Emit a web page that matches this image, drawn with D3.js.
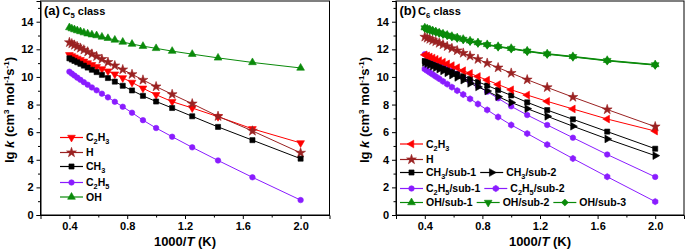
<!DOCTYPE html>
<html><head><meta charset="utf-8">
<script src="https://cdn.jsdelivr.net/npm/d3@7"></script>
<style>
html,body{margin:0;padding:0;background:#fff;}
svg{display:block;font-family:"Liberation Sans",Arial,sans-serif;font-weight:bold;}
</style></head>
<body><svg id="c" width="685" height="252"></svg>
<script>
// ---------- DATA ----------
const xVals = [0.4, 0.4167, 0.4348, 0.4545, 0.4762, 0.5, 0.5263, 0.5556, 0.5882, 0.625, 0.6667, 0.7143, 0.7692, 0.8333, 0.9091, 1.0, 1.1111, 1.25, 1.4286, 1.6667, 2.0];
const xTicks = [0.4, 0.8, 1.2, 1.6, 2.0];
const yTicks = [0, 2, 4, 6, 8, 10, 12, 14];

// Panel (a) C5 class
const a_C2H3 = [11.6, 11.52, 11.43, 11.34, 11.24, 11.13, 11.01, 10.88, 10.73, 10.58, 10.42, 10.2, 9.93, 9.6, 9.18, 8.71, 8.21, 7.75, 7.12, 6.24, 5.22];
const a_H    = [12.5, 12.41, 12.31, 12.2, 12.09, 11.96, 11.82, 11.66, 11.49, 11.29, 11.07, 10.82, 10.53, 10.19, 9.78, 9.3, 8.74, 8.06, 7.15, 6.09, 4.5];
const a_CH3  = [11.35, 11.26, 11.16, 11.06, 10.95, 10.82, 10.68, 10.52, 10.35, 10.15, 9.92, 9.66, 9.36, 9.02, 8.63, 8.22, 7.75, 7.15, 6.38, 5.42, 4.08];
const a_C2H5 = [10.38, 10.24, 10.1, 9.95, 9.79, 9.62, 9.44, 9.24, 9.03, 8.79, 8.52, 8.2, 7.84, 7.41, 6.87, 6.3, 5.67, 4.9, 3.95, 2.73, 1.08];
const a_OH   = [13.58, 13.5, 13.43, 13.36, 13.29, 13.21, 13.13, 13.06, 13.0, 12.9, 12.8, 12.68, 12.53, 12.38, 12.23, 12.07, 11.87, 11.65, 11.38, 11.05, 10.65];

// Panel (b) C6 class
const b_C2H3     = [11.6, 11.53, 11.45, 11.37, 11.28, 11.18, 11.07, 10.95, 10.82, 10.67, 10.45, 10.26, 10.03, 9.77, 9.45, 9.07, 8.69, 8.23, 7.68, 6.95, 6.08];
const b_H        = [12.9, 12.82, 12.74, 12.65, 12.56, 12.45, 12.34, 12.21, 12.07, 11.91, 11.73, 11.52, 11.28, 11.0, 10.67, 10.28, 9.8, 9.24, 8.54, 7.64, 6.4];
const b_CH3_1    = [11.15, 11.08, 11.0, 10.92, 10.83, 10.73, 10.62, 10.5, 10.37, 10.22, 10.05, 9.86, 9.64, 9.38, 9.05, 8.66, 8.16, 7.6, 6.93, 6.04, 4.8];
const b_CH3_2    = [11.05, 10.97, 10.88, 10.78, 10.68, 10.57, 10.44, 10.3, 10.14, 9.97, 9.77, 9.54, 9.28, 8.98, 8.57, 8.15, 7.7, 7.15, 6.43, 5.51, 4.3];
const b_C2H5_1   = [11.65, 11.54, 11.42, 11.3, 11.16, 11.01, 10.84, 10.66, 10.46, 10.23, 9.97, 9.67, 9.33, 8.93, 8.45, 7.87, 7.24, 6.52, 5.6, 4.38, 2.76];
const b_C2H5_2   = [10.57, 10.45, 10.32, 10.18, 10.03, 9.87, 9.68, 9.48, 9.26, 9.01, 8.73, 8.41, 8.04, 7.61, 7.1, 6.52, 5.9, 5.1, 4.09, 2.77, 0.97];
const b_OH_1     = [13.57, 13.5, 13.43, 13.36, 13.29, 13.21, 13.13, 13.04, 12.95, 12.85, 12.74, 12.62, 12.49, 12.36, 12.22, 12.08, 11.89, 11.69, 11.49, 11.21, 10.9];
const b_OH_2     = [13.54, 13.47, 13.4, 13.33, 13.26, 13.18, 13.1, 13.01, 12.92, 12.82, 12.71, 12.59, 12.46, 12.33, 12.19, 12.05, 11.86, 11.66, 11.46, 11.18, 10.87];
const b_OH_3     = [13.52, 13.45, 13.38, 13.31, 13.24, 13.16, 13.08, 12.99, 12.9, 12.8, 12.69, 12.57, 12.44, 12.31, 12.17, 12.03, 11.84, 11.64, 11.44, 11.16, 10.85];

// ---------- STYLE ----------
const RED = "#ff0000", WINE = "#9a2222", BLACK = "#000000", VIOLET = "#8a1cff", GREEN = "#0a8a0a";

const hexagon = { draw(ctx, size) {
  const r = Math.sqrt(size / (1.5 * Math.sqrt(3)));
  for (let i = 0; i < 6; i++) {
    const a = Math.PI / 3 * i + Math.PI / 6;
    const px = r * Math.cos(a), py = r * Math.sin(a);
    if (i === 0) ctx.moveTo(px, py); else ctx.lineTo(px, py);
  }
  ctx.closePath();
}};

const M = {
  triUp:   {type: d3.symbolTriangle, size: 26, rot: 0},
  triDown: {type: d3.symbolTriangle, size: 26, rot: 180},
  triLeft: {type: d3.symbolTriangle, size: 26, rot: -90},
  triRight:{type: d3.symbolTriangle, size: 26, rot: 90},
  star:    {type: d3.symbolStar, size: 30, rot: 0},
  square:  {type: d3.symbolSquare, size: 26, rot: 0},
  circle:  {type: d3.symbolCircle, size: 24, rot: 0},
  hex:     {type: hexagon, size: 26, rot: 0},
  diamond: {type: d3.symbolSquare, size: 24, rot: 45}
};

const panels = [
  {
    left: 40.5, right: 329.5, top: 1, bottom: 215,
    tag: "(a)", cls: ["C","6"].length ? "C_5 class" : "", titleX: 14,
    series: [
      {label: "C_2H_3", y: a_C2H3, color: RED, m: "triDown"},
      {label: "H", y: a_H, color: WINE, m: "star"},
      {label: "CH_3", y: a_CH3, color: BLACK, m: "square"},
      {label: "C_2H_5", y: a_C2H5, color: VIOLET, m: "circle"},
      {label: "OH", y: a_OH, color: GREEN, m: "triUp"}
    ],
    legendRows: [["C_2H_3"],["H"],["CH_3"],["C_2H_5"],["OH"]],
    legendX: 60, legendY: [137.5, 152.5, 166.5, 182.5, 197]
  },
  {
    left: 396, right: 684, top: 1, bottom: 215,
    tag: "(b)", cls: "C_6 class", titleX: 369,
    series: [
      {label: "C_2H_5/sub-1", y: b_C2H5_1, color: VIOLET, m: "circle"},
      {label: "C_2H_5/sub-2", y: b_C2H5_2, color: VIOLET, m: "hex"},
      {label: "CH_3/sub-1", y: b_CH3_1, color: BLACK, m: "square"},
      {label: "CH_3/sub-2", y: b_CH3_2, color: BLACK, m: "triRight"},
      {label: "C_2H_3", y: b_C2H3, color: RED, m: "triLeft"},
      {label: "H", y: b_H, color: WINE, m: "star"},
      {label: "OH/sub-1", y: b_OH_1, color: GREEN, m: "triUp"},
      {label: "OH/sub-2", y: b_OH_2, color: GREEN, m: "triDown"},
      {label: "OH/sub-3", y: b_OH_3, color: GREEN, m: "diamond"}
    ],
    legendRows: [["C_2H_3"],["H"],["CH_3/sub-1","CH_3/sub-2"],["C_2H_5/sub-1","C_2H_5/sub-2"],["OH/sub-1","OH/sub-2","OH/sub-3"]],
    legendX: 400, legendY: [144, 159.5, 172.5, 188.5, 202.5]
  }
];
panels[0].cls = "C_5 class";

const svg = d3.select("#c");

function richText(sel, str, size) {
  // "_x" => subscript single char
  let i = 0;
  while (i < str.length) {
    if (str[i] === "_") {
      sel.append("tspan").attr("font-size", size * 0.7).attr("dy", size * 0.3).text(str[i + 1]);
      i += 2;
      let j = i; while (j < str.length && str[j] !== "_") j++;
      if (j > i) sel.append("tspan").attr("dy", -size * 0.3).text(str.slice(i, j));
      else sel.append("tspan").attr("dy", -size * 0.3).text("");
      i = j;
    } else {
      let j = i; while (j < str.length && str[j] !== "_") j++;
      sel.append("tspan").text(str.slice(i, j));
      i = j;
    }
  }
  return sel;
}

function drawMarker(g, mk, x, y, color) {
  const s = M[mk];
  g.append("path")
    .attr("d", d3.symbol().type(s.type).size(s.size)())
    .attr("transform", `translate(${x},${y}) rotate(${s.rot})`)
    .attr("fill", color).attr("stroke", color).attr("stroke-width", 0.6);
}

panels.forEach(p => {
  const x = d3.scaleLinear().domain([0.2, 2.2]).range([p.left, p.right]);
  const y = d3.scaleLinear().domain([0, 15.5]).range([p.bottom, p.top]);
  const g = svg.append("g");

  // frame
  g.append("rect").attr("x", p.left).attr("y", p.top)
    .attr("width", p.right - p.left).attr("height", p.bottom - p.top)
    .attr("fill", "none").attr("stroke", "#000").attr("stroke-width", 1);

  // x axis
  const xa = g.append("g").attr("transform", `translate(0,${p.bottom})`)
    .call(d3.axisBottom(x).tickValues(xTicks).tickFormat(d3.format(".1f")).tickSize(4).tickPadding(3));
  g.append("g").attr("transform", `translate(0,${p.bottom})`)
    .call(d3.axisBottom(x).tickValues([0.6, 1.0, 1.4, 1.8]).tickFormat("").tickSize(2.5))
    .select(".domain").remove();
  // y axis
  const ya = g.append("g").attr("transform", `translate(${p.left},0)`)
    .call(d3.axisLeft(y).tickValues(yTicks).tickFormat(d3.format("d")).tickSize(4).tickPadding(3));
  g.append("g").attr("transform", `translate(${p.left},0)`)
    .call(d3.axisLeft(y).tickValues([1, 3, 5, 7, 9, 11, 13, 15]).tickFormat("").tickSize(2.5))
    .select(".domain").remove();
  g.selectAll(".tick text").attr("font-size", 11).attr("font-weight", "bold")
    .attr("font-family", "Liberation Sans, Arial, sans-serif").attr("fill", "#000");
  g.selectAll(".domain").attr("stroke-width", 1);

  // series
  p.series.forEach(s => {
    const line = d3.line().x((d, i) => x(xVals[i])).y(d => y(d));
    g.append("path").datum(s.y).attr("d", line)
      .attr("fill", "none").attr("stroke", s.color).attr("stroke-width", 1);
  });
  p.series.forEach(s => {
    s.y.forEach((v, i) => drawMarker(g, s.m, x(xVals[i]), y(v), s.color));
  });

  // panel label
  const tl = g.append("text").attr("x", p.left + 3.5).attr("y", 15).attr("font-size", 13);
  tl.append("tspan").text(p.tag + " ");
  const tc = g.append("text").attr("x", p.left + 22).attr("y", 15).attr("font-size", 11);
  richText(tc, p.cls, 11);

  // axis titles
  const xt = g.append("text").attr("x", (p.left + p.right) / 2).attr("y", 246)
    .attr("text-anchor", "middle").attr("font-size", 13);
  xt.append("tspan").text("1000/");
  xt.append("tspan").attr("font-style", "italic").text("T");
  xt.append("tspan").text(" (K)");

  const yt = g.append("text").attr("transform", `translate(${p.titleX},${(p.top + p.bottom) / 2 + 2}) rotate(-90)`)
    .attr("text-anchor", "middle").attr("font-size", 13);
  yt.append("tspan").text("lg ");
  yt.append("tspan").attr("font-style", "italic").text("k");
  yt.append("tspan").text(" (cm");
  yt.append("tspan").attr("font-size", 8).attr("dy", -5).text("3");
  yt.append("tspan").attr("dy", 5).text(" mol");
  yt.append("tspan").attr("font-size", 8).attr("dy", -5).text("-1");
  yt.append("tspan").attr("dy", 5).text("s");
  yt.append("tspan").attr("font-size", 8).attr("dy", -5).text("-1");
  yt.append("tspan").attr("dy", 5).text(")");

  // legend
  const bySeries = {};
  p.series.forEach(s => bySeries[s.label] = s);
  p.legendRows.forEach((row, ri) => {
    let cx = p.legendX;
    const ly = p.legendY[ri];
    row.forEach(lbl => {
      const s = bySeries[lbl];
      g.append("line").attr("x1", cx).attr("x2", cx + 23).attr("y1", ly).attr("y2", ly)
        .attr("stroke", s.color).attr("stroke-width", 1.2);
      drawMarker(g, s.m, cx + 11.5, ly, s.color);
      const t = g.append("text").attr("x", cx + 26).attr("y", ly + 3.8).attr("font-size", 10.5);
      richText(t, lbl, 10.5);
      cx = cx + 26 + t.node().getComputedTextLength() + 4;
    });
  });
});
</script></body></html>
